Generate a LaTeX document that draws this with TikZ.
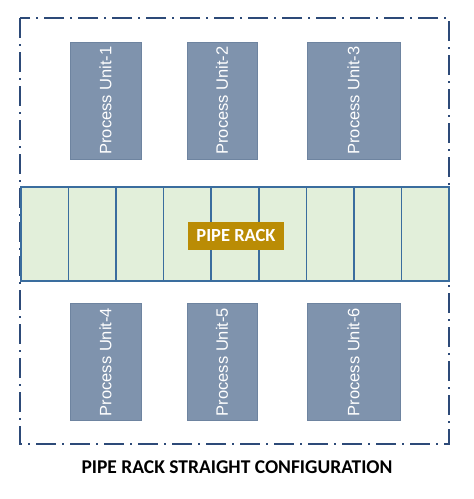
\documentclass[tikz,border=0pt]{standalone}
\usepackage{fontspec}
\setmainfont{Liberation Sans}
\newfontfamily\calibri{Carlito}
\usetikzlibrary{positioning}
\definecolor{unitfill}{HTML}{7F93AD}
\definecolor{unitline}{HTML}{6E84A0}
\definecolor{rackfill}{HTML}{E2EFDA}
\definecolor{rackline}{HTML}{3A6D9E}
\definecolor{frameline}{HTML}{2D4A78}
\definecolor{gold}{HTML}{BA8C05}
\tikzstyle{unit}=[rectangle,draw=unitline,fill=unitfill,semithick,inner sep=0pt,rotate=90,minimum width=117pt,text=white,font=\fontsize{16.5}{18}\selectfont]
\tikzstyle{cell}=[rectangle,draw=rackline,fill=rackfill,line width=1.6pt,inner sep=0pt,minimum width=47.56pt,minimum height=94pt]
\tikzstyle{plot}=[draw=frameline,line width=1.8pt,dash pattern=on 20pt off 6pt on 2pt off 6pt]
\tikzstyle{tag}=[rectangle,fill=gold,text=white,inner sep=0pt,minimum width=96pt,minimum height=28pt,font=\calibri\bfseries\fontsize{18.5}{20}\selectfont]

\begin{document}
\begin{tikzpicture}[x=1pt,y=-1pt]

    \useasboundingbox (0,0) rectangle (474,499);

    % Grenze
    \coordinate (nw) at (20,18);
    \coordinate (se) at (449,444);
    \draw [plot] (nw) rectangle (se);

    % Rack
    \foreach \i in {1,...,9}
        \node[cell] (c\i) at ({21+47.56*(\i-0.5)},234) {};
    \node[tag] (rack) at (236,235.5) {PIPE RACK};

    % Einheiten
    \node[unit, minimum height=71pt] (pu1) at (105.5,100.5) {Process Unit-1};
    \node[unit, minimum height=70pt] (pu2) at (222,100.5) {Process Unit-2};
    \node[unit, minimum height=93pt] (pu3) at (353.5,100.5) {Process Unit-3};
    \node[unit, minimum height=71pt] (pu4) at (105.5,362) {Process Unit-4};
    \node[unit, minimum height=70pt] (pu5) at (222,362) {Process Unit-5};
    \node[unit, minimum height=93pt] (pu6) at (353.5,362) {Process Unit-6};

    % Titel
    \node[font=\calibri\bfseries\fontsize{19.5}{22}\selectfont] (title) at (237,467) {PIPE RACK STRAIGHT CONFIGURATION};

\end{tikzpicture}
\end{document}
